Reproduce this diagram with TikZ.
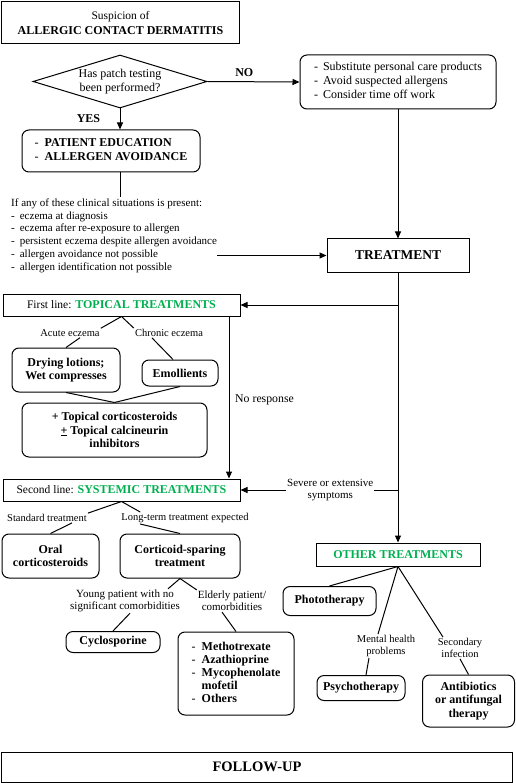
\documentclass[tikz,border=0pt]{standalone}
\usepackage{fontspec}
\setmainfont{Liberation Serif}
\usetikzlibrary{shapes.geometric,arrows.meta,calc}
\definecolor{tgreen}{RGB}{0,176,80}
\begin{document}
\begin{tikzpicture}[x=1pt,y=-1pt,
  every node/.style={font=\fontsize{11.5}{14}\selectfont},
  sbox/.style={draw, line width=1pt, inner sep=0pt, align=center},
  rbox/.style={sbox, rounded corners=7pt},
  lbl/.style={inner sep=1pt, align=center, font=\fontsize{10.5}{12}\selectfont},
  bf/.style={font=\fontsize{12}{13.5}\selectfont\bfseries},
  ln/.style={line width=1pt},
  arr/.style={line width=1pt, -{Triangle[length=7pt,width=6pt]}},
]
\useasboundingbox (0,0) rectangle (515,783);

% top
\node[sbox, minimum width=238pt, minimum height=42pt, font=\fontsize{11.5}{15}\selectfont] (susp) at (120.5,23)
  {Suspicion of\\{\bfseries\fontsize{12}{15}\selectfont ALLERGIC CONTACT DERMATITIS}};
\node[diamond, shape aspect=3.28, draw, line width=1pt, minimum width=174pt, minimum height=53pt, inner sep=0pt, align=center,
  font=\fontsize{12}{14.5}\selectfont] (pt) at (120,81.5)
  {Has patch testing\\been performed?};
\node[rbox, minimum width=196pt, minimum height=54pt, font=\fontsize{12}{14}\selectfont] (nobox) at (398,82)
  {\begin{tabular}{@{}l@{\hspace{5pt}}l@{}}-&Substitute personal care products\\-&Avoid suspected allergens\\-&Consider time off work\end{tabular}};
\node[rbox, minimum width=178pt, minimum height=42pt, font=\fontsize{12}{14}\selectfont] (edu) at (111,151)
  {\begin{tabular}{@{}l@{\hspace{6pt}}l@{}}-&\bfseries PATIENT EDUCATION\\-&\bfseries ALLERGEN AVOIDANCE\end{tabular}};
\node[anchor=north west, inner sep=0pt, align=left, font=\fontsize{11}{12.7}\selectfont] (sit) at (11,197.5)
  {\begin{tabular}{@{}l@{\hspace{5pt}}l@{}}\multicolumn{2}{@{}l@{}}{If any of these clinical situations is present:}\\
  -&eczema at diagnosis\\-&eczema after re-exposure to allergen\\-&persistent eczema despite allergen avoidance\\
  -&allergen avoidance not possible\\-&allergen identification not possible\end{tabular}};
\node[sbox, minimum width=142pt, minimum height=33pt, font=\fontsize{13.5}{15}\selectfont\bfseries] (treat) at (398,255.5) {TREATMENT};

% topical
\node[sbox, minimum width=237pt, minimum height=22pt] (first) at (121.5,305)
  {First line: {\bfseries\fontsize{12}{14}\selectfont\color{tgreen}TOPICAL TREATMENTS}};
\node[lbl] (acute) at (70,333) {Acute eczema};
\node[lbl] (chron) at (169,333) {Chronic eczema};
\node[rbox, bf, minimum width=108pt, minimum height=44pt] (dry) at (66,370) {Drying lotions;\\Wet compresses};
\node[rbox, bf, minimum width=76pt, minimum height=26pt] (emol) at (180,373) {Emollients};
\node[rbox, bf, minimum width=185pt, minimum height=54pt] (topc) at (114.5,430)
  {+ Topical corticosteroids\\\underline{+} Topical calcineurin\\inhibitors};
\node[lbl, anchor=west, font=\fontsize{11.8}{13}\selectfont] (nores) at (234,400) {No response};

% systemic
\node[sbox, minimum width=237pt, minimum height=22pt] (second) at (121.5,490)
  {Second line: {\bfseries\fontsize{12}{14}\selectfont\color{tgreen}SYSTEMIC TREATMENTS}};
\node[lbl] (std) at (47,518) {Standard treatment};
\node[lbl] (long) at (185,518) {Long-term treatment expected};
\node[rbox, bf, minimum width=97pt, minimum height=44pt] (oral) at (50.5,556) {Oral\\corticosteroids};
\node[rbox, bf, minimum width=120pt, minimum height=44pt] (cs) at (180,556) {Corticoid-sparing\\treatment};
\node[lbl, font=\fontsize{11}{12}\selectfont] (young) at (125,601) {Young patient with no\\significant comorbidities};
\node[lbl, font=\fontsize{11}{12}\selectfont] (eld) at (232,601) {Elderly patient/\\comorbidities};
\node[rbox, bf, minimum width=94pt, minimum height=21pt] (cyc) at (113,642) {Cyclosporine};
\node[rbox, minimum width=116pt, minimum height=83pt, font=\fontsize{12}{13}\selectfont] (meth) at (236,673.5)
  {\begin{tabular}{@{}l@{\hspace{6pt}}l@{}}-&\bfseries Methotrexate\\-&\bfseries Azathioprine\\-&\bfseries Mycophenolate\\&\bfseries mofetil\\-&\bfseries Others\end{tabular}};

% other
\node[sbox, bf, text=tgreen, minimum width=164pt, minimum height=23pt] (other) at (398,554.5) {OTHER TREATMENTS};
\node[rbox, bf, minimum width=93pt, minimum height=29pt] (photo) at (329.5,601) {Phototherapy};
\node[lbl] (mh) at (386,646) {Mental health\\problems};
\node[lbl] (sec) at (460,648) {Secondary\\infection};
\node[rbox, bf, minimum width=88pt, minimum height=25pt] (psy) at (361,688) {Psychotherapy};
\node[rbox, bf, minimum width=92pt, minimum height=52pt] (anti) at (468.5,701) {Antibiotics\\or antifungal\\therapy};

\node[sbox, minimum width=511pt, minimum height=30pt, font=\fontsize{14.5}{16}\selectfont\bfseries] (fu) at (257,767) {FOLLOW-UP};

% connectors
\draw[arr] (pt.east) -- node[pos=0.4, above=1pt, bf] {NO} (nobox.west);
\draw[arr] (pt.south) -- node[left=16pt, bf] {YES} (pt.south |- edu.north);
\draw[ln] (pt.south |- edu.south) -- (pt.south |- sit.north);
\draw[arr] (sit.east |- treat.west) -- (treat.west);
\draw[arr] (nobox.south) -- (treat.north);
\draw[arr] (treat.south) -- (other.north);
\coordinate (b1) at (treat.south |- first.east);
\coordinate (b2) at (treat.south |- second.east);
\draw[arr] (b1) -- (first.east);
\draw[arr] (b2) -- node[pos=0.43, lbl, fill=white, font=\fontsize{11}{12}\selectfont] (sev) {Severe or extensive\\symptoms} (second.east);
\draw[arr] ([xshift=107.5pt]first.south) -- ([xshift=107.5pt]second.north);

\draw[ln] (first.south) -- (acute.north east);
\draw[ln] (first.south) -- (chron.north west);
\draw[ln] ([xshift=10pt]acute.south) -- (dry.north);
\draw[ln] ([xshift=-17pt]chron.south) -- ([xshift=-7pt]emol.north);
\draw[ln] (dry.south) -- (topc.north);
\draw[ln] (emol.south) -- (topc.north);
\draw[ln] (second.south) -- (std.north east);
\draw[ln] (second.south) -- ([xshift=20pt]long.north west);
\draw[ln] ([xshift=25pt]std.south) -- (oral.north);
\draw[ln] ([xshift=-45pt]long.south) -- (cs.north);
\draw[ln] (cs.south) -- ([xshift=-13pt]young.north east);
\draw[ln] (cs.south) -- (eld.north west);
\draw[ln] ([xshift=5pt]young.south) -- (cyc.north);
\draw[ln] ([xshift=-10pt]eld.south) -- (meth.north);
\draw[ln] (other.south) -- (photo.north);
\draw[ln] (other.south) -- ([xshift=-8pt]mh.north);
\draw[ln] (other.south) -- ([xshift=-17pt]sec.north);
\draw[ln] ([xshift=-17pt]mh.south) -- ([xshift=5pt]psy.north);
\draw[ln] (sec.south) -- (anti.north);
\end{tikzpicture}
\end{document}
